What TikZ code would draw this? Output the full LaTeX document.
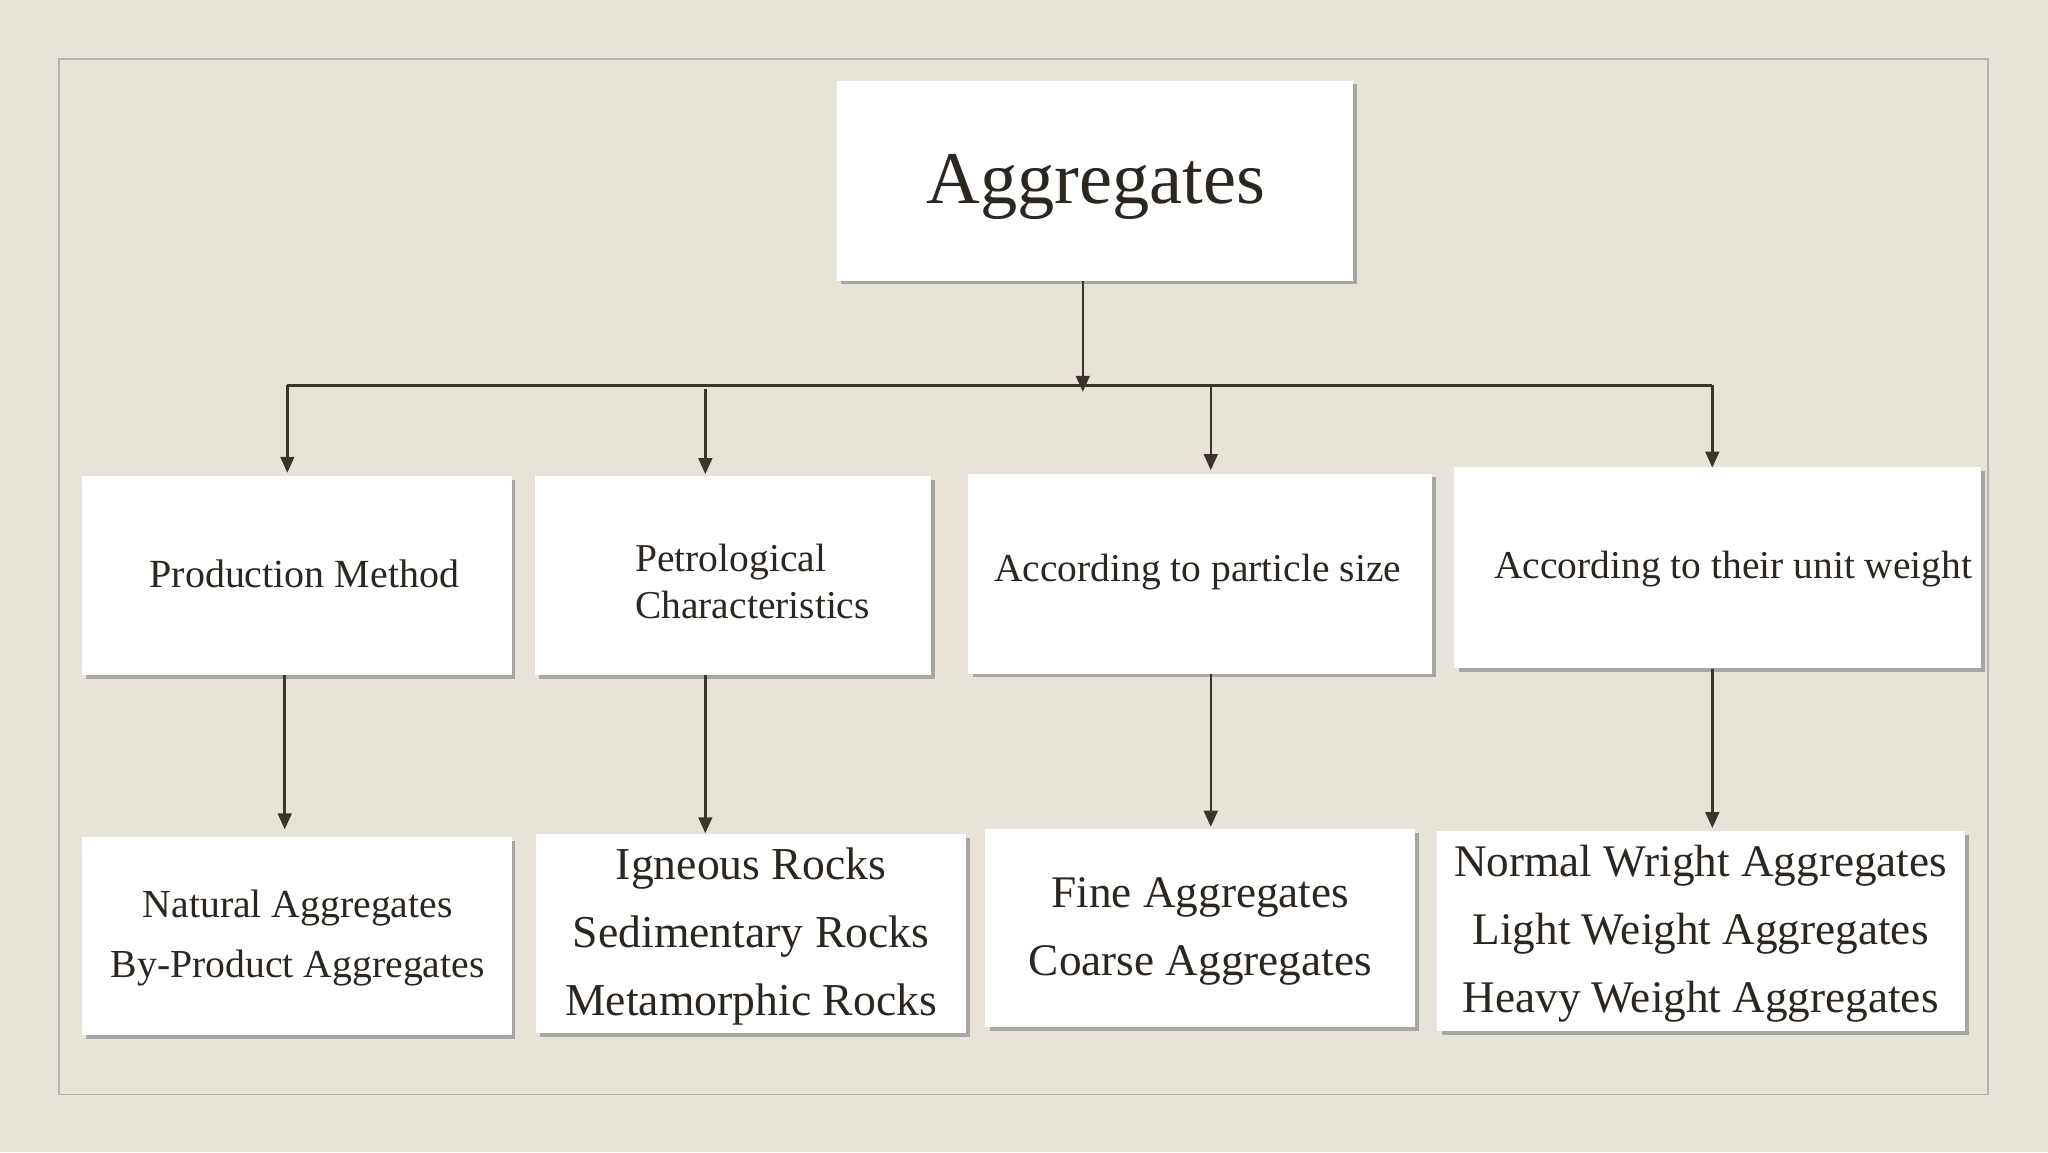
\documentclass[tikz,border=0pt]{standalone}
\usepackage{fontspec}
\setmainfont{Liberation Serif}
\usetikzlibrary{arrows.meta}
\definecolor{bg}{HTML}{E8E3D8}
\definecolor{ln}{HTML}{3A342C}
\definecolor{txt}{HTML}{2B2620}
\tikzset{
 conn/.style={draw=ln,line width=1.1pt},
 arr/.style={conn,-{Triangle[length=7pt,width=6pt]}},
 lbl/.style={text=txt,align=center,inner sep=0pt}
}
\newcommand{\bx}[5]{%
 \fill[black!35] ({(#2)*0.02+0.05},{-(#3)*0.02-0.05}) rectangle ({(#4)*0.02+0.05},{-(#5)*0.02-0.05});
 \node[fill=white,inner sep=0pt,minimum width={((#4)-(#2))*0.02cm},minimum height={((#5)-(#3))*0.02cm}] (#1) at ({((#2)+(#4))*0.01},{-((#3)+(#5))*0.01}) {};}
\begin{document}
\begin{tikzpicture}
\fill[bg] (0,0) rectangle (31.36,-17.64);
\useasboundingbox (0,0) rectangle (31.36,-17.64);
\draw[black!30,line width=0.8pt] (0.9,-0.9) rectangle (30.44,-16.76);
\bx{top}{641}{62}{1036}{215}
\bx{a1}{63}{365}{392}{517}
\bx{b1}{410}{365}{713}{517}
\bx{c1}{742}{363}{1097}{516}
\bx{d1}{1114}{358}{1517}{512}
\bx{a2}{63}{641}{392}{793}
\bx{b2}{411}{639}{740}{791}
\bx{c2}{755}{635}{1084}{787}
\bx{d2}{1101}{637}{1505}{790}
% texts
\node[lbl,font=\fontsize{32.4}{38}\selectfont] (ttop) at (16.78,-2.86) {Aggregates};
\node[lbl,font=\fontsize{17.4}{20}\selectfont] (ta1) at (4.66,-8.78) {Production Method};
\node[lbl,align=left,font=\fontsize{17.2}{20.4}\selectfont,anchor=west] (tb1) at (9.72,-8.9) {Petrological\\Characteristics};
\node[lbl,font=\fontsize{17.2}{20}\selectfont] (tc1) at (18.34,-8.76) {According to particle size};
\node[lbl,font=\fontsize{17.2}{20}\selectfont] (td1) at (26.54,-8.72) {According to their unit weight};
\node[lbl,font=\fontsize{17.3}{26}\selectfont] (ta2) at (4.56,-14.36) {Natural Aggregates\\By-Product Aggregates};
\node[lbl,font=\fontsize{19.9}{29.5}\selectfont] (tb2) at (11.5,-14.34) {Igneous Rocks\\Sedimentary Rocks\\Metamorphic Rocks};
\node[lbl,font=\fontsize{19.7}{29.5}\selectfont] (tc2) at (18.38,-14.26) {Fine Aggregates\\Coarse Aggregates};
\node[lbl,font=\fontsize{19.7}{29.5}\selectfont] (td2) at (26.04,-14.3) {Normal Wright Aggregates\\Light Weight Aggregates\\Heavy Weight Aggregates};
% connectors
\coordinate (hub) at (16.58,-6.0);
\coordinate (hl) at (4.4,-5.9);
\coordinate (hr) at (26.22,-5.9);
\draw[arr] (top.south -| hub) -- (hub);
\draw[conn] (hl) -- (hr);
\draw[arr] (hl) -- (4.4,-7.24);
\draw[arr] (10.8,-5.96) -- (10.8,-7.26);
\draw[arr] (18.54,-5.9) -- (18.54,-7.2);
\draw[arr] (hr) -- (26.22,-7.16);
\draw[arr] (4.36,-10.34) -- (4.36,-12.7);
\draw[arr] (10.8,-10.34) -- (10.8,-12.76);
\draw[arr] (18.54,-10.32) -- (18.54,-12.66);
\draw[arr] (26.22,-10.24) -- (26.22,-12.68);
\end{tikzpicture}
\end{document}
